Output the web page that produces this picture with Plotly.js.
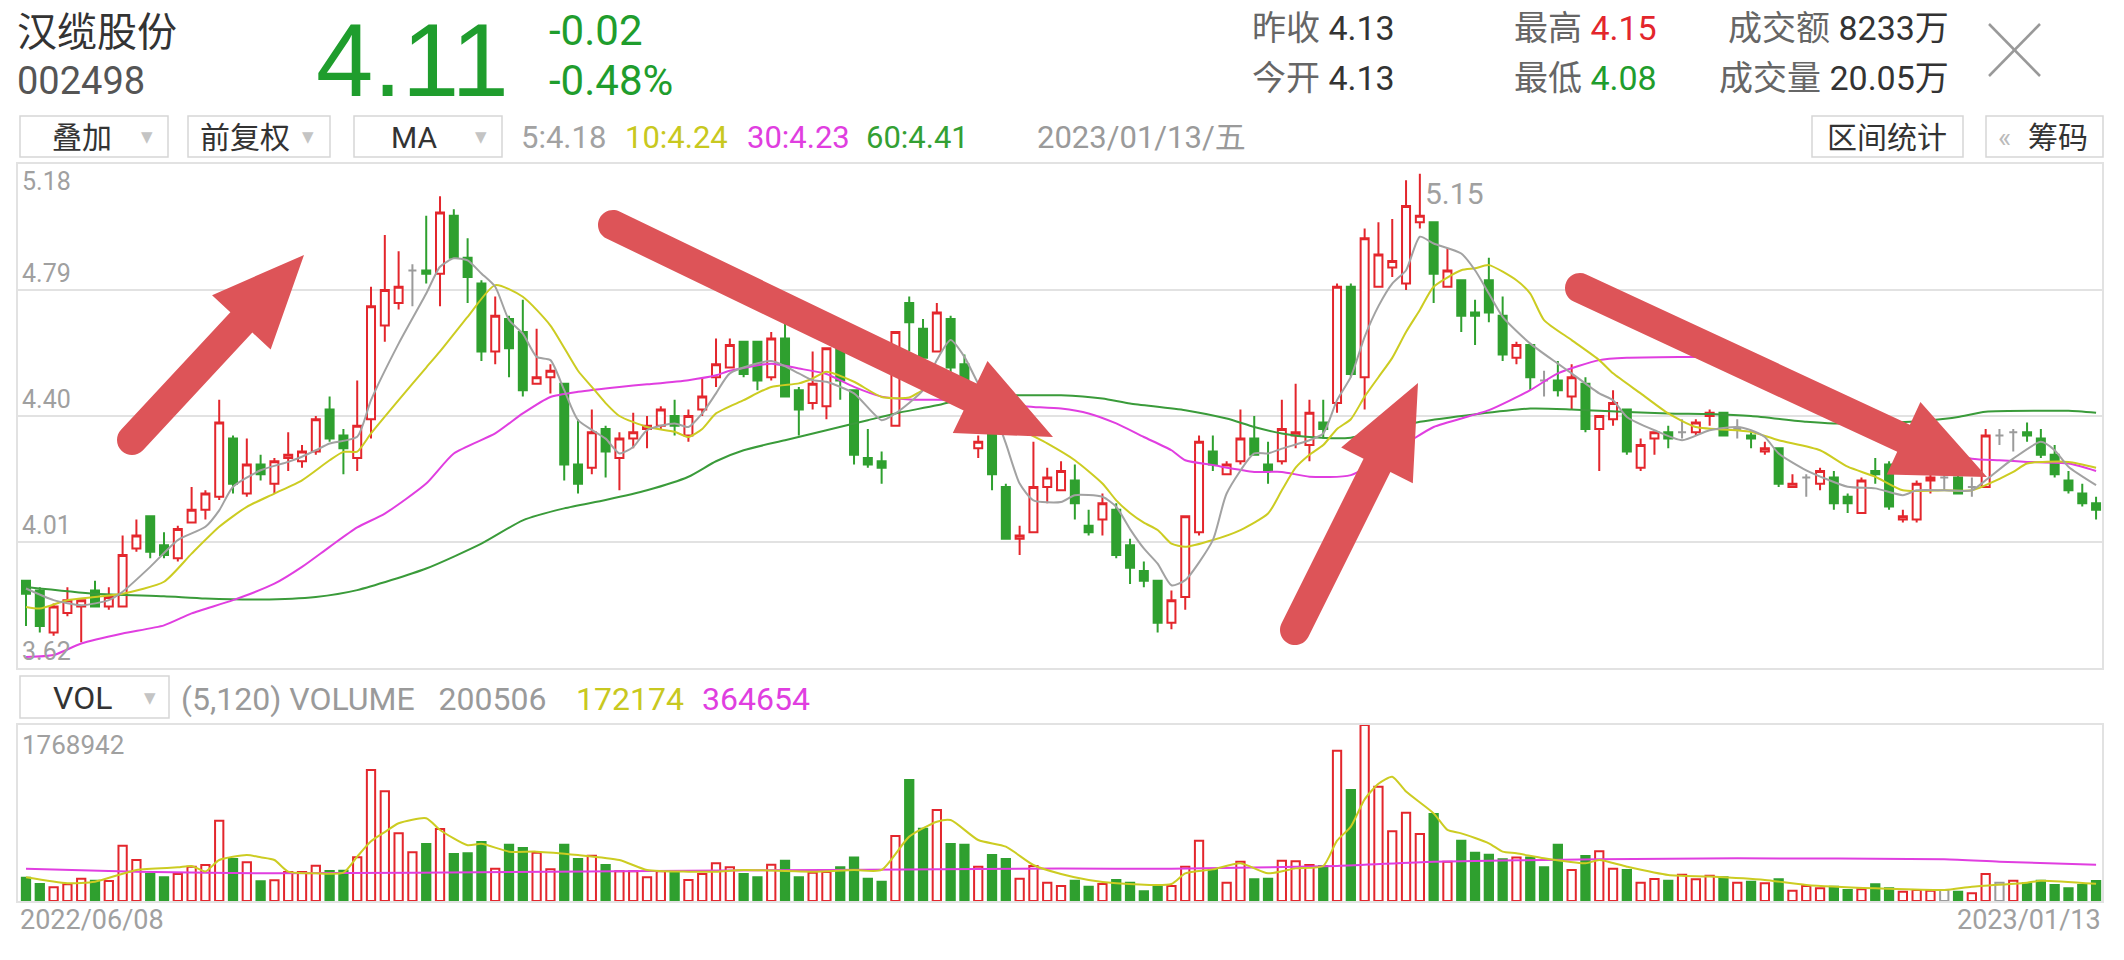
<!DOCTYPE html>
<html><head><meta charset="utf-8">
<script src="https://cdn.plot.ly/plotly-3.0.1.min.js"></script>
<style>html,body{margin:0;padding:0;background:#fff;}#chart{width:2124px;height:960px;}</style>
</head><body><div id="chart"></div>
<script>
// ---------------- DATA ----------------
const openP = [3.89,3.86,3.73,3.79,3.81,3.86,3.81,3.81,3.99,4.09, 4.00,3.96,4.07,4.11,4.15,4.33,4.16,4.25,4.19,4.27,
 4.26,4.29,4.42,4.34,4.27,4.39,4.68,4.75,4.85,4.85, 4.84,5.02,4.89,4.81,4.60,4.70,4.66,4.50,4.52,4.50,
 4.25,4.24,4.36,4.27,4.33,4.36,4.37,4.40,4.34,4.42, 4.52,4.55,4.63,4.63,4.52,4.64,4.48,4.44,4.43,4.61,
 4.48,4.27,4.26,4.37,4.75,4.67,4.60,4.70,4.56,4.30, 4.35,4.18,4.02,4.04,4.18,4.17,4.20,4.06,4.08,4.11,
 4.00,3.92,3.89,3.76,3.84,4.04,4.29,4.22,4.26,4.33, 4.25,4.26,4.34,4.31,4.38,4.44,4.80,4.52,4.80,4.86,
 4.81,5.00,5.00,4.80,4.82,4.72,4.82,4.71,4.58,4.62, 4.51,4.51,4.46,4.50,4.36,4.39,4.42,4.24,4.33,4.35,
 4.35,4.35,4.40,4.41,4.36,4.34,4.29,4.30,4.18,4.21, 4.19,4.21,4.15,4.10,4.23,4.25,4.08,4.08,4.20,4.21,
 4.21,4.18,4.18,4.34,4.35,4.35,4.33,4.28,4.20,4.16, 4.13];
const highP = [3.89,3.87,3.82,3.87,3.83,3.89,3.87,4.03,4.08,4.09, 4.04,4.06,4.18,4.17,4.45,4.34,4.33,4.28,4.27,4.35,
 4.31,4.40,4.46,4.36,4.51,4.80,4.96,4.91,4.87,5.02, 5.08,5.04,4.95,4.82,4.77,4.71,4.76,4.67,4.56,4.50,
 4.39,4.42,4.37,4.35,4.41,4.40,4.43,4.45,4.42,4.52, 4.64,4.64,4.63,4.63,4.66,4.69,4.49,4.60,4.61,4.61,
 4.48,4.36,4.29,4.66,4.77,4.70,4.75,4.71,4.59,4.34, 4.35,4.19,4.06,4.32,4.24,4.26,4.25,4.11,4.16,4.13,
 4.02,3.95,3.89,3.86,4.09,4.34,4.34,4.26,4.42,4.40, 4.32,4.45,4.50,4.45,4.45,4.81,4.81,4.98,5.00,5.01,
 5.13,5.15,5.00,4.92,4.82,4.76,4.89,4.77,4.63,4.62, 4.54,4.57,4.56,4.52,4.40,4.48,4.42,4.33,4.35,4.37,
 4.39,4.39,4.42,4.41,4.39,4.35,4.32,4.30,4.22,4.22, 4.24,4.23,4.16,4.21,4.27,4.26,4.11,4.20,4.22,4.22,
 4.22,4.21,4.36,4.36,4.36,4.38,4.36,4.31,4.23,4.19, 4.15];
const lowP = [3.75,3.73,3.72,3.78,3.70,3.81,3.80,3.81,3.98,3.96, 3.96,3.95,4.07,4.08,4.14,4.16,4.15,4.20,4.16,4.23,
 4.24,4.28,4.32,4.22,4.23,4.33,4.63,4.73,4.74,4.81, 4.74,4.89,4.75,4.57,4.56,4.52,4.46,4.50,4.47,4.20,
 4.16,4.22,4.21,4.17,4.30,4.30,4.36,4.34,4.32,4.40, 4.49,4.55,4.52,4.48,4.51,4.46,4.34,4.42,4.39,4.45,
 4.25,4.24,4.19,4.37,4.60,4.57,4.60,4.53,4.43,4.27, 4.17,4.02,3.97,4.04,4.13,4.17,4.08,4.03,4.03,3.96,
 3.88,3.87,3.73,3.74,3.80,4.03,4.23,4.22,4.25,4.28, 4.19,4.25,4.30,4.26,4.33,4.41,4.52,4.42,4.80,4.83,
 4.79,4.98,4.75,4.80,4.66,4.62,4.69,4.57,4.56,4.48, 4.46,4.46,4.42,4.35,4.23,4.37,4.28,4.23,4.28,4.30,
 4.33,4.34,4.37,4.34,4.33,4.30,4.28,4.18,4.18,4.15, 4.17,4.11,4.10,4.10,4.19,4.11,4.07,4.07,4.16,4.17,
 4.16,4.15,4.18,4.31,4.29,4.32,4.27,4.21,4.16,4.12, 4.08];
const closeP = [3.85,3.75,3.81,3.83,3.83,3.81,3.84,3.97,4.03,3.98, 3.97,4.05,4.11,4.16,4.38,4.19,4.25,4.22,4.26,4.28,
 4.29,4.39,4.33,4.30,4.37,4.74,4.79,4.80,4.85,4.84, 5.03,4.89,4.83,4.60,4.71,4.61,4.48,4.52,4.54,4.25,
 4.19,4.35,4.29,4.33,4.35,4.37,4.42,4.37,4.40,4.46, 4.56,4.62,4.53,4.51,4.64,4.46,4.42,4.50,4.61,4.51,
 4.28,4.25,4.24,4.66,4.69,4.58,4.72,4.55,4.45,4.32, 4.22,4.02,4.03,4.18,4.21,4.23,4.13,4.04,4.13,3.97,
 3.93,3.89,3.76,3.83,4.09,4.32,4.25,4.25,4.33,4.28, 4.23,4.36,4.35,4.41,4.36,4.80,4.53,4.95,4.90,4.88,
 5.05,5.02,4.84,4.85,4.71,4.71,4.72,4.59,4.62,4.52, 4.51,4.48,4.52,4.36,4.40,4.44,4.29,4.31,4.35,4.33,
 4.35,4.38,4.41,4.34,4.36,4.33,4.30,4.19,4.19,4.21, 4.23,4.13,4.13,4.20,4.22,4.12,4.09,4.19,4.21,4.21,
 4.16,4.18,4.34,4.34,4.35,4.34,4.28,4.22,4.17,4.13, 4.11];
const volume = [234000,171000,137000,168000,224000,204000,201000,556000,412000,271000,
 238000,271000,345000,362000,807000,422000,389000,198000,208000,291000,
 291000,355000,302000,305000,439000,1317000,1102000,680000,489000,573000,
 724000,472000,479000,593000,325000,566000,533000,486000,318000,566000,
 422000,456000,362000,298000,298000,238000,298000,291000,211000,271000,
 379000,338000,271000,238000,365000,405000,238000,285000,291000,338000,
 436000,224000,194000,653000,1216000,727000,915000,573000,566000,345000,
 462000,422000,224000,352000,184000,151000,204000,144000,171000,211000,
 184000,97000,161000,151000,345000,606000,318000,184000,395000,218000,
 224000,405000,399000,362000,352000,1511000,1116000,1768942,1149000,700000,
 888000,673000,874000,395000,606000,486000,466000,419000,436000,436000,
 338000,566000,312000,452000,499000,325000,312000,184000,221000,204000,
 265000,218000,255000,238000,184000,194000,178000,218000,104000,151000,
 127000,144000,111000,117000,168000,127000,94000,111000,104000,111000,
 94000,77000,271000,184000,204000,178000,204000,161000,127000,161000,
 200506];

const ma5Idx = [0,2,4,6,7,9,11,13,14,15,17,19,20,21,22,24,25,27,29,30,31,32,33,34,35,36,37,38,39,40,42,43,44,45,47,48,49,50,51,54,56,57,58,60,62,63,65,66,67,68,69,70,71,72,73,75,76,78,79,80,81,82,83,84,86,87,89,90,91,93,94,95,96,97,98,99,100,101,102,104,105,106,107,109,111,112,114,115,116,118,120,122,124,125,126,127,129,132,134,136,137,139,141,142,144,146,147,148,150];
const ma5Val = [3.866,3.830,3.814,3.830,3.856,3.933,4.016,4.057,4.108,4.181,4.232,4.258,4.274,4.294,4.315,4.336,4.449,4.624,4.779,4.862,4.888,4.882,4.841,4.800,4.697,4.655,4.583,4.573,4.480,4.387,4.330,4.284,4.304,4.356,4.377,4.366,4.408,4.470,4.532,4.570,4.532,4.511,4.506,4.470,4.387,4.408,4.480,4.573,4.635,4.583,4.500,4.430,4.315,4.191,4.139,4.134,4.155,4.150,4.119,4.050,3.990,3.943,3.876,3.892,4.016,4.160,4.284,4.284,4.299,4.325,4.346,4.449,4.521,4.645,4.740,4.810,4.851,4.955,4.934,4.903,4.851,4.779,4.707,4.624,4.562,4.532,4.470,4.449,4.397,4.356,4.325,4.356,4.366,4.356,4.335,4.284,4.232,4.181,4.176,4.155,4.170,4.170,4.170,4.201,4.268,4.320,4.294,4.243,4.186];
const ma10Idx = [0,1,3,5,7,10,12,14,16,18,20,22,23,24,25,27,29,30,32,34,36,38,40,41,42,43,45,47,48,49,50,52,54,56,57,58,60,62,64,65,67,69,70,72,74,76,78,79,80,81,82,83,84,86,88,90,91,92,93,94,95,96,97,98,99,100,101,102,104,105,106,108,109,110,112,114,115,117,119,121,124,125,127,130,132,134,136,139,141,142,144,145,148,150];
const ma10Val = [3.809,3.804,3.830,3.840,3.850,3.887,3.974,4.057,4.119,4.160,4.201,4.263,4.289,4.290,4.346,4.449,4.550,4.600,4.707,4.805,4.769,4.680,4.540,4.490,4.440,4.400,4.366,4.351,4.335,4.360,4.408,4.449,4.490,4.501,4.516,4.537,4.506,4.459,4.457,4.480,4.501,4.480,4.420,4.360,4.315,4.263,4.191,4.139,4.100,4.070,4.047,4.005,3.995,4.016,4.047,4.098,4.170,4.240,4.280,4.310,4.360,4.390,4.460,4.520,4.580,4.660,4.728,4.800,4.851,4.857,4.867,4.820,4.779,4.697,4.635,4.573,4.532,4.470,4.408,4.366,4.356,4.351,4.325,4.294,4.243,4.212,4.170,4.170,4.170,4.186,4.227,4.253,4.258,4.240];
const ma30Idx = [0,2,4,7,10,12,15,18,20,22,24,26,29,31,34,36,38,40,43,45,48,50,51,54,56,58,60,62,64,68,71,73,75,77,79,81,83,84,86,89,91,93,96,100,102,106,109,111,114,116,121,124,126,128,130,132,134,136,138,141,143,145,148,150];
const ma30Val = [3.654,3.660,3.696,3.727,3.752,3.789,3.830,3.881,3.933,3.995,4.055,4.098,4.191,4.284,4.346,4.408,4.459,4.475,4.490,4.498,4.511,4.526,4.540,4.562,4.547,4.530,4.490,4.460,4.451,4.449,4.433,4.428,4.423,4.408,4.377,4.335,4.294,4.263,4.248,4.227,4.227,4.212,4.217,4.315,4.366,4.418,4.480,4.532,4.573,4.580,4.583,4.585,4.565,4.530,4.480,4.430,4.380,4.340,4.300,4.268,4.263,4.258,4.253,4.230];
const ma60Idx = [0,5,10,13,17,21,24,29,33,36,39,42,45,48,50,52,55,58,61,63,66,68,70,73,75,78,80,84,87,89,91,93,96,101,109,112,114,119,122,125,129,131,135,138,140,142,146,148,150];
const ma60Val = [3.871,3.850,3.842,3.835,3.832,3.840,3.861,3.928,4.005,4.077,4.114,4.140,4.170,4.212,4.260,4.294,4.325,4.356,4.387,4.408,4.433,4.454,4.464,4.464,4.464,4.454,4.439,4.418,4.392,4.366,4.346,4.335,4.333,4.382,4.423,4.420,4.416,4.408,4.406,4.400,4.382,4.377,4.379,4.387,4.397,4.413,4.416,4.416,4.410];
const vma5Idx = [0,3,5,8,11,12,13,14,16,17,18,19,21,23,24,25,26,27,29,30,32,33,35,37,40,43,45,48,50,52,57,60,62,64,66,67,69,71,73,75,77,79,83,84,86,88,90,92,94,95,96,97,98,99,100,102,103,104,106,107,108,110,113,114,116,119,122,126,129,134,139,141,145,146,150];
const vma5Val = [238000,178000,194000,312000,338000,352000,297000,412000,462000,439000,412000,295000,278000,285000,446000,600000,693000,781000,831000,714000,560000,575000,496000,496000,462000,412000,312000,295000,295000,312000,295000,312000,312000,647000,797000,814000,613000,546000,362000,271000,211000,178000,171000,278000,318000,379000,278000,328000,352000,606000,748000,1022000,1179000,1249000,1100000,881000,714000,680000,580000,496000,479000,429000,379000,412000,345000,261000,245000,211000,161000,127000,111000,144000,184000,204000,172174];
const vma120Idx = [0,8,18,38,58,75,83,95,102,114,124,139,143,150];
const vma120Val = [325000,295000,278000,295000,312000,326000,325000,352000,395000,419000,429000,419000,395000,364654];

const priceTicks = [5.18, 4.79, 4.40, 4.01, 3.62];
const volMaxLabel = '1768942';
const dateLabels = ['2022/06/08', '2023/01/13'];
const stockName = '汉缆股份', stockCode = '002498';
const lastPrice = '4.11', priceChange = '-0.02', priceChangePct = '-0.48%';
const quoteLabels = ['昨收', '今开', '最高', '最低', '成交额', '成交量'];
const quoteValues = ['4.13', '4.13', '4.15', '4.08', '8233万', '20.05万'];
const maLegend = ['5:4.18', '10:4.24', '30:4.23', '60:4.41'];
const volLegend = ['(5,120) VOLUME\u00A0\u00A0\u00A0200506', '172174', '364654'];
const toolButtons = ['叠加', '前复权', 'MA'];
const rightButtons = ['区间统计', '筹码'];
const currentDate = '2023/01/13/五';

// ---------------- STYLE / LAYOUT ----------------
const W = 2124, H = 960;
const PX = x => x / W, PY = y => 1 - y / H;
const FONT = "Roboto, 'Noto Sans CJK SC', sans-serif";
const CJK = "'Noto Sans CJK SC', sans-serif";
const BIG = "'Liberation Sans', Arial, sans-serif";
const RED = '#e3262c', GREEN = '#2fa02f', GRAY = '#9b9b9b', HEADGREEN = '#1f9d2d';
const C_MA5 = '#a2a2a2', C_MA10 = '#cccc22', C_MA30 = '#e03ee0', C_MA60 = '#3a9b3a';
const LINE = '#e2e2e2';

const N = closeP.length;
const idx = Array.from({length: N}, (_, i) => i);
const flat = i => openP[i] === closeP[i];
const pick = (arr, cond) => idx.map(i => cond(i) ? arr[i] : null);

const candleMain = {
  type: 'candlestick', x: idx, xaxis: 'x', yaxis: 'y',
  open: pick(openP, i => !flat(i)), high: pick(highP, i => !flat(i)),
  low: pick(lowP, i => !flat(i)), close: pick(closeP, i => !flat(i)),
  increasing: {line: {color: RED, width: 2}, fillcolor: '#ffffff'},
  decreasing: {line: {color: GREEN, width: 2}, fillcolor: GREEN},
  whiskerwidth: 0, hoverinfo: 'skip', showlegend: false
};
const candleFlat = {
  type: 'candlestick', x: idx, xaxis: 'x', yaxis: 'y',
  open: pick(openP, flat), high: pick(highP, flat), low: pick(lowP, flat), close: pick(closeP, flat),
  increasing: {line: {color: GRAY, width: 2}, fillcolor: GRAY},
  decreasing: {line: {color: GRAY, width: 2}, fillcolor: GRAY},
  whiskerwidth: 0, hoverinfo: 'skip', showlegend: false
};
// volume colour: candle direction, doji days compared with the previous close
const volDir = idx.map(i => {
  if (closeP[i] > openP[i]) return 1;
  if (closeP[i] < openP[i]) return -1;
  const prev = i > 0 ? closeP[i - 1] : closeP[i];
  return closeP[i] > prev ? 1 : closeP[i] < prev ? -1 : 0;
});
const volBars = {
  type: 'bar', x: idx, y: volume, xaxis: 'x2', yaxis: 'y2', width: 0.6,
  marker: {color: volDir.map(d => d === -1 ? GREEN : '#ffffff'),
           line: {color: volDir.map(d => d === 1 ? RED : d === -1 ? GREEN : GRAY), width: 2}},
  hoverinfo: 'skip', showlegend: false
};
const lineTrace = (x, y, color, xa, ya) => ({
  type: 'scatter', mode: 'lines', x, y, xaxis: xa, yaxis: ya,
  line: {color, width: 2, shape: 'spline', smoothing: 0.6}, hoverinfo: 'skip', showlegend: false
});

const traces = [
  lineTrace(ma60Idx, ma60Val, C_MA60, 'x', 'y'),
  lineTrace(ma30Idx, ma30Val, C_MA30, 'x', 'y'),
  candleMain, candleFlat,
  lineTrace(ma10Idx, ma10Val, C_MA10, 'x', 'y'),
  lineTrace(ma5Idx, ma5Val, C_MA5, 'x', 'y'),
  volBars,
  lineTrace(vma120Idx, vma120Val, C_MA30, 'x2', 'y2'),
  lineTrace(vma5Idx, vma5Val, C_MA10, 'x2', 'y2')
];

function txt(text, x, y, size, color, xanchor, family, yanchor) {
  return {text, x: PX(x), y: PY(y), xref: 'paper', yref: 'paper', xanchor: xanchor || 'left',
    yanchor: yanchor || 'middle', showarrow: false, font: {family: family || FONT, size, color}};
}
const annotations = [];
annotations.push(txt(stockName, 15, 29, 40, '#333333', 'left', CJK));
annotations.push(txt(stockCode, 15, 81, 38, '#555555'));
annotations.push(txt(lastPrice, 314, 1, 103, HEADGREEN, 'left', BIG, 'top'));
annotations.push(txt(priceChange, 547, 30, 42, HEADGREEN));
annotations.push(txt(priceChangePct, 547, 80, 42, HEADGREEN));
const qColor = ['#333333', '#333333', RED, HEADGREEN, '#333333', '#333333'];
const qRight = [1397, 1397, 1659, 1659, 1951, 1951];
const qY = [28, 78, 28, 78, 28, 78];
quoteLabels.forEach((lab, k) => {
  annotations.push(txt(`<span style="color:#666666">${lab}</span> <span style="color:${qColor[k]}">${quoteValues[k]}</span>`,
    qRight[k], qY[k], 34, '#333333', 'right'));
});
// toolbar row
const btnCx = [82, 245, 414], btnTri = [147, 308, 481];
toolButtons.forEach((b, k) => {
  annotations.push(txt(b, btnCx[k], 137, 30, '#333333', 'center'));
  annotations.push(txt('▼', btnTri[k], 137, 15, '#c4c4c4', 'center', "'DejaVu Sans', sans-serif"));
});
const maColors = [C_MA5, '#c8c820', C_MA30, '#33a033'], maX = [519, 623, 745, 864];
maLegend.forEach((m, k) => annotations.push(txt(m, maX[k], 137, 31, maColors[k])));
annotations.push(txt(currentDate, 1035, 137, 31, '#9a9a9a'));
annotations.push(txt(rightButtons[0], 1887, 137, 30, '#333333', 'center'));
annotations.push(txt('«', 2004, 137, 28, '#bbbbbb', 'center'));
annotations.push(txt(rightButtons[1], 2058, 137, 30, '#333333', 'center'));
// price axis labels
priceTicks.forEach((v, k) => {
  annotations.push({text: v.toFixed(2), x: PX(20), y: v, xref: 'paper', yref: 'y', xanchor: 'left',
    yanchor: k === 0 ? 'top' : 'bottom', yshift: k === 0 ? -1 : 0, showarrow: false,
    font: {family: FONT, size: 25, color: '#a0a0a0'}});
});
// highest price label
const hiVal = Math.max(...highP), hiIdx = highP.indexOf(hiVal);
annotations.push({text: hiVal.toFixed(2), x: hiIdx, y: hiVal, xref: 'x', yref: 'y', xanchor: 'left', yanchor: 'top',
  xshift: 3, showarrow: false, font: {family: FONT, size: 30, color: '#a0a0a0'}});
// volume header
annotations.push(txt('VOL', 82, 698, 32, '#333333', 'center'));
annotations.push(txt('▼', 150, 698, 15, '#c4c4c4', 'center', "'DejaVu Sans', sans-serif"));
annotations.push(txt(volLegend[0], 179, 699, 32, '#9a9a9a'));
annotations.push(txt(volLegend[1], 574, 699, 32, '#c8c820'));
annotations.push(txt(volLegend[2], 700, 699, 32, C_MA30));
annotations.push({text: volMaxLabel, x: PX(20), y: 1768942, xref: 'paper', yref: 'y2', xanchor: 'left', yanchor: 'top',
  yshift: -3, showarrow: false, font: {family: FONT, size: 26, color: '#a0a0a0'}});
annotations.push(txt(dateLabels[0], 18, 920, 27, '#a0a0a0', 'left'));
annotations.push(txt(dateLabels[1], 2103, 920, 27, '#a0a0a0', 'right'));

// shapes
const rect = (x0, y0, x1, y1) => ({type: 'rect', xref: 'paper', yref: 'paper', x0: PX(x0), x1: PX(x1), y0: PY(y1), y1: PY(y0),
  line: {color: '#d6d6d6', width: 1.5}, fillcolor: 'rgba(0,0,0,0)', layer: 'above'});
const shapes = [
  rect(20, 116, 168, 157), rect(188, 116, 330, 157), rect(354, 116, 502, 157),
  rect(1812, 116, 1963, 157), rect(1986, 116, 2103, 157), rect(20, 676, 169, 718),
  {type: 'line', xref: 'paper', yref: 'paper', x0: PX(1989), y0: PY(24), x1: PX(2040), y1: PY(76), line: {color: '#999999', width: 2.5}},
  {type: 'line', xref: 'paper', yref: 'paper', x0: PX(2040), y0: PY(24), x1: PX(1989), y1: PY(76), line: {color: '#999999', width: 2.5}}
];
function arrowPath(t, h, sw, hw, hl) {
  const dx = h[0] - t[0], dy = h[1] - t[1], L = Math.hypot(dx, dy), ux = dx / L, uy = dy / L, nx = -uy, ny = ux;
  const bx = h[0] - ux * hl, by = h[1] - uy * hl, r = sw / 2, k = 0.5523 * r;
  const P = (x, y) => `${PX(x).toFixed(5)},${PY(y).toFixed(5)}`;
  const T1 = [t[0] + nx * r, t[1] + ny * r], T2 = [t[0] - nx * r, t[1] - ny * r];
  const B1 = [bx + nx * r, by + ny * r], B2 = [bx - nx * r, by - ny * r];
  const H1 = [bx + nx * hw / 2, by + ny * hw / 2], H2 = [bx - nx * hw / 2, by - ny * hw / 2];
  const Bk = [t[0] - ux * r, t[1] - uy * r];
  let p = `M${P(...T1)} L${P(...B1)} L${P(...H1)} L${P(...h)} L${P(...H2)} L${P(...B2)} L${P(...T2)}`;
  p += ` C${P(T2[0] - ux * k, T2[1] - uy * k)} ${P(Bk[0] - nx * k, Bk[1] - ny * k)} ${P(...Bk)}`;
  p += ` C${P(Bk[0] + nx * k, Bk[1] + ny * k)} ${P(T1[0] - ux * k, T1[1] - uy * k)} ${P(...T1)} Z`;
  return p;
}
const arrows = [
  [[132, 440], [304, 255]],
  [[613, 225], [1053, 437]],
  [[1295, 630], [1418, 383]],
  [[1580, 288], [1987, 477]]
];
arrows.forEach(a => shapes.push({type: 'path', xref: 'paper', yref: 'paper', path: arrowPath(a[0], a[1], 30, 80, 92),
  fillcolor: '#dd5458', line: {width: 0}, layer: 'above'}));

const xDom = [PX(18), PX(2102)], xRange = [-0.58, 150.43];
const layout = {
  width: W, height: H, margin: {l: 0, r: 0, t: 0, b: 0, pad: 0},
  paper_bgcolor: '#ffffff', plot_bgcolor: '#ffffff', showlegend: false,
  boxgap: 0.42, boxgroupgap: 0, bargap: 0.4, dragmode: false, hovermode: false,
  xaxis: {domain: xDom, range: xRange, anchor: 'y', showgrid: false, zeroline: false, showticklabels: false, ticks: '',
    showline: true, mirror: true, linecolor: LINE, linewidth: 2, rangeslider: {visible: false}, fixedrange: true},
  yaxis: {domain: [PY(668), PY(164)], range: [priceTicks[4], priceTicks[0]], anchor: 'x',
    tickvals: priceTicks.slice(1, 4), showticklabels: false, ticks: '', showgrid: true, gridcolor: LINE, gridwidth: 1.5,
    zeroline: false, showline: true, mirror: true, linecolor: LINE, linewidth: 2, fixedrange: true},
  xaxis2: {domain: xDom, range: xRange, anchor: 'y2', showgrid: false, zeroline: false, showticklabels: false, ticks: '',
    showline: true, mirror: true, linecolor: LINE, linewidth: 2, fixedrange: true},
  yaxis2: {domain: [PY(901), PY(725)], range: [0, 1768942], anchor: 'x2', showgrid: false, zeroline: false,
    showticklabels: false, ticks: '', showline: true, mirror: true, linecolor: LINE, linewidth: 2, fixedrange: true},
  annotations, shapes
};
Plotly.newPlot('chart', traces, layout, {displayModeBar: false, staticPlot: true});
</script></body></html>
